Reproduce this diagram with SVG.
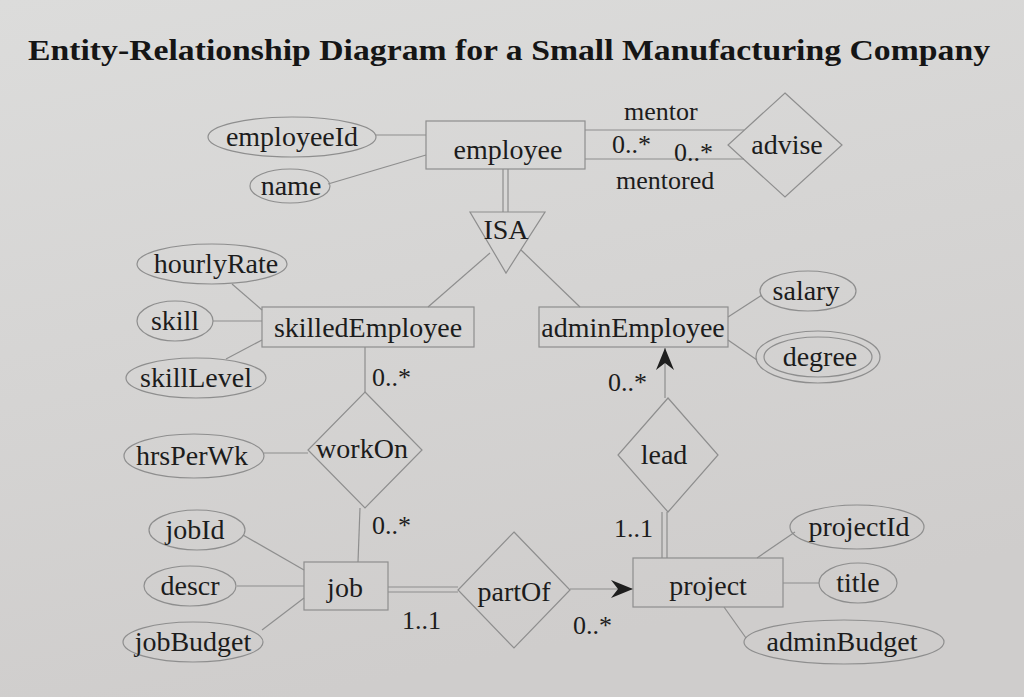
<svg xmlns="http://www.w3.org/2000/svg" width="1024" height="697" viewBox="0 0 1024 697">
<defs>
<linearGradient id="bg" x1="0" y1="0" x2="0.3" y2="1">
<stop offset="0" stop-color="#dcdcdb"/>
<stop offset="1" stop-color="#cfcdcc"/>
</linearGradient>
<marker id="arr" viewBox="0 0 22 18" refX="22" refY="9" markerWidth="22" markerHeight="18" markerUnits="userSpaceOnUse" orient="auto">
<path d="M0,0 L22,9 L0,18 L7,9 Z" fill="#1e1e1e"/>
</marker>
<style>
.t{font-family:"Liberation Serif","Times New Roman",serif;font-size:28px;fill:#1c1c1c;text-anchor:middle;dominant-baseline:central}
.c{font-family:"Liberation Serif","Times New Roman",serif;font-size:26px;fill:#1c1c1c}
.s{fill:none;stroke:#8e8e8e;stroke-width:1.2}
.l{fill:none;stroke:#8e8e8e;stroke-width:1.2}
</style>
</defs>
<rect width="1024" height="697" fill="url(#bg)"/>
<text x="28" y="60" font-family="Liberation Serif,'Times New Roman',serif" font-weight="bold" font-size="29" fill="#151515" textLength="962" lengthAdjust="spacingAndGlyphs">Entity-Relationship Diagram for a Small Manufacturing Company</text>

<g id="connectors">
<line class="l" x1="376" y1="135" x2="426" y2="135"/>
<line class="l" x1="328" y1="184" x2="426" y2="155"/>
<line class="l" x1="585" y1="130" x2="744" y2="130"/>
<line class="l" x1="585" y1="159" x2="744" y2="159"/>
<line class="l" x1="503" y1="169" x2="503" y2="212"/>
<line class="l" x1="508" y1="169" x2="508" y2="212"/>
<line class="l" x1="490" y1="253" x2="428" y2="307"/>
<line class="l" x1="521" y1="250" x2="580" y2="307"/>
<line class="l" x1="232" y1="284" x2="262" y2="310"/>
<line class="l" x1="213" y1="321" x2="262" y2="321"/>
<line class="l" x1="226" y1="359" x2="262" y2="340"/>
<line class="l" x1="728" y1="317" x2="762" y2="295"/>
<line class="l" x1="728" y1="340" x2="757" y2="360"/>
<line class="l" x1="365" y1="347" x2="365" y2="392"/>
<line class="l" x1="264" y1="453" x2="308" y2="453"/>
<line class="l" x1="360" y1="508" x2="358" y2="562"/>
<line class="l" x1="243" y1="535" x2="304" y2="570"/>
<line class="l" x1="237" y1="586" x2="304" y2="586"/>
<line class="l" x1="262" y1="630" x2="304" y2="598"/>
<line class="l" x1="388" y1="587" x2="458" y2="587"/>
<line class="l" x1="388" y1="592" x2="458" y2="592"/>
<line class="l" x1="570" y1="589" x2="633" y2="589" marker-end="url(#arr)"/>
<line class="l" x1="665" y1="398" x2="665" y2="348" marker-end="url(#arr)"/>
<line class="l" x1="662" y1="512" x2="662" y2="558"/>
<line class="l" x1="667" y1="512" x2="667" y2="558"/>
<line class="l" x1="757" y1="558" x2="795" y2="532"/>
<line class="l" x1="783" y1="583" x2="819" y2="583"/>
<line class="l" x1="724" y1="607" x2="746" y2="638"/>
</g>

<g id="labels">
<text class="c" x="624" y="120">mentor</text>
<text class="c" x="612" y="153">0..*</text>
<text class="c" x="674" y="161">0..*</text>
<text class="c" x="616" y="189">mentored</text>
<text class="c" x="372" y="386">0..*</text>
<text class="c" x="608" y="391">0..*</text>
<text class="c" x="372" y="534">0..*</text>
<text class="c" x="614" y="537">1..1</text>
<text class="c" x="402" y="629">1..1</text>
<text class="c" x="573" y="634">0..*</text>
</g>

<g id="employee"><rect class="s" x="426" y="121" width="159" height="48"/><text class="t" x="508" y="149">employee</text></g>
<g id="employeeId"><ellipse class="s" cx="292" cy="137" rx="84" ry="20"/><text class="t" x="292" y="136">employeeId</text></g>
<g id="name"><ellipse class="s" cx="290" cy="186" rx="40" ry="17"/><text class="t" x="291" y="185">name</text></g>
<g id="advise"><polygon class="s" points="785,93 842,145 785,197 728,145"/><text class="t" x="787" y="144">advise</text></g>
<g id="isa"><polygon class="s" points="470,212 545,212 506,273"/><text class="t" x="506" y="229">ISA</text></g>
<g id="skilledEmployee"><rect class="s" x="262" y="307" width="212" height="40"/><text class="t" x="368" y="327">skilledEmployee</text></g>
<g id="adminEmployee"><rect class="s" x="539" y="307" width="189" height="40"/><text class="t" x="633" y="327">adminEmployee</text></g>
<g id="hourlyRate"><ellipse class="s" cx="212" cy="264" rx="75" ry="20"/><text class="t" x="216" y="263">hourlyRate</text></g>
<g id="skill"><ellipse class="s" cx="175" cy="321" rx="38" ry="20"/><text class="t" x="175" y="320">skill</text></g>
<g id="skillLevel"><ellipse class="s" cx="196" cy="378" rx="70" ry="20"/><text class="t" x="196" y="377">skillLevel</text></g>
<g id="salary"><ellipse class="s" cx="808" cy="291" rx="48" ry="20"/><text class="t" x="806" y="290">salary</text></g>
<g id="degree"><ellipse class="s" cx="818" cy="357" rx="62" ry="26"/><ellipse class="s" cx="818" cy="357" rx="54" ry="20"/><text class="t" x="820" y="356">degree</text></g>
<g id="workOn"><polygon class="s" points="365,392 422,450 365,508 308,450"/><text class="t" x="362" y="448">workOn</text></g>
<g id="hrsPerWk"><ellipse class="s" cx="194" cy="456" rx="70" ry="22"/><text class="t" x="192" y="455">hrsPerWk</text></g>
<g id="job"><rect class="s" x="304" y="562" width="84" height="48"/><text class="t" x="345" y="587">job</text></g>
<g id="jobId"><ellipse class="s" cx="197" cy="530" rx="48" ry="20"/><text class="t" x="195" y="529">jobId</text></g>
<g id="descr"><ellipse class="s" cx="190" cy="586" rx="46" ry="20"/><text class="t" x="190" y="585">descr</text></g>
<g id="jobBudget"><ellipse class="s" cx="193" cy="642" rx="70" ry="20"/><text class="t" x="193" y="641">jobBudget</text></g>
<g id="partOf"><polygon class="s" points="514,532 570,590 514,648 458,590"/><text class="t" x="514" y="591">partOf</text></g>
<g id="lead"><polygon class="s" points="668,398 718,455 668,512 618,455"/><text class="t" x="664" y="454">lead</text></g>
<g id="project"><rect class="s" x="633" y="558" width="150" height="49"/><text class="t" x="708" y="585">project</text></g>
<g id="projectId"><ellipse class="s" cx="857" cy="527" rx="67" ry="22"/><text class="t" x="859" y="526">projectId</text></g>
<g id="title"><ellipse class="s" cx="858" cy="583" rx="39" ry="20"/><text class="t" x="858" y="582">title</text></g>
<g id="adminBudget"><ellipse class="s" cx="844" cy="642" rx="100" ry="22"/><text class="t" x="842" y="641">adminBudget</text></g>
</svg>
